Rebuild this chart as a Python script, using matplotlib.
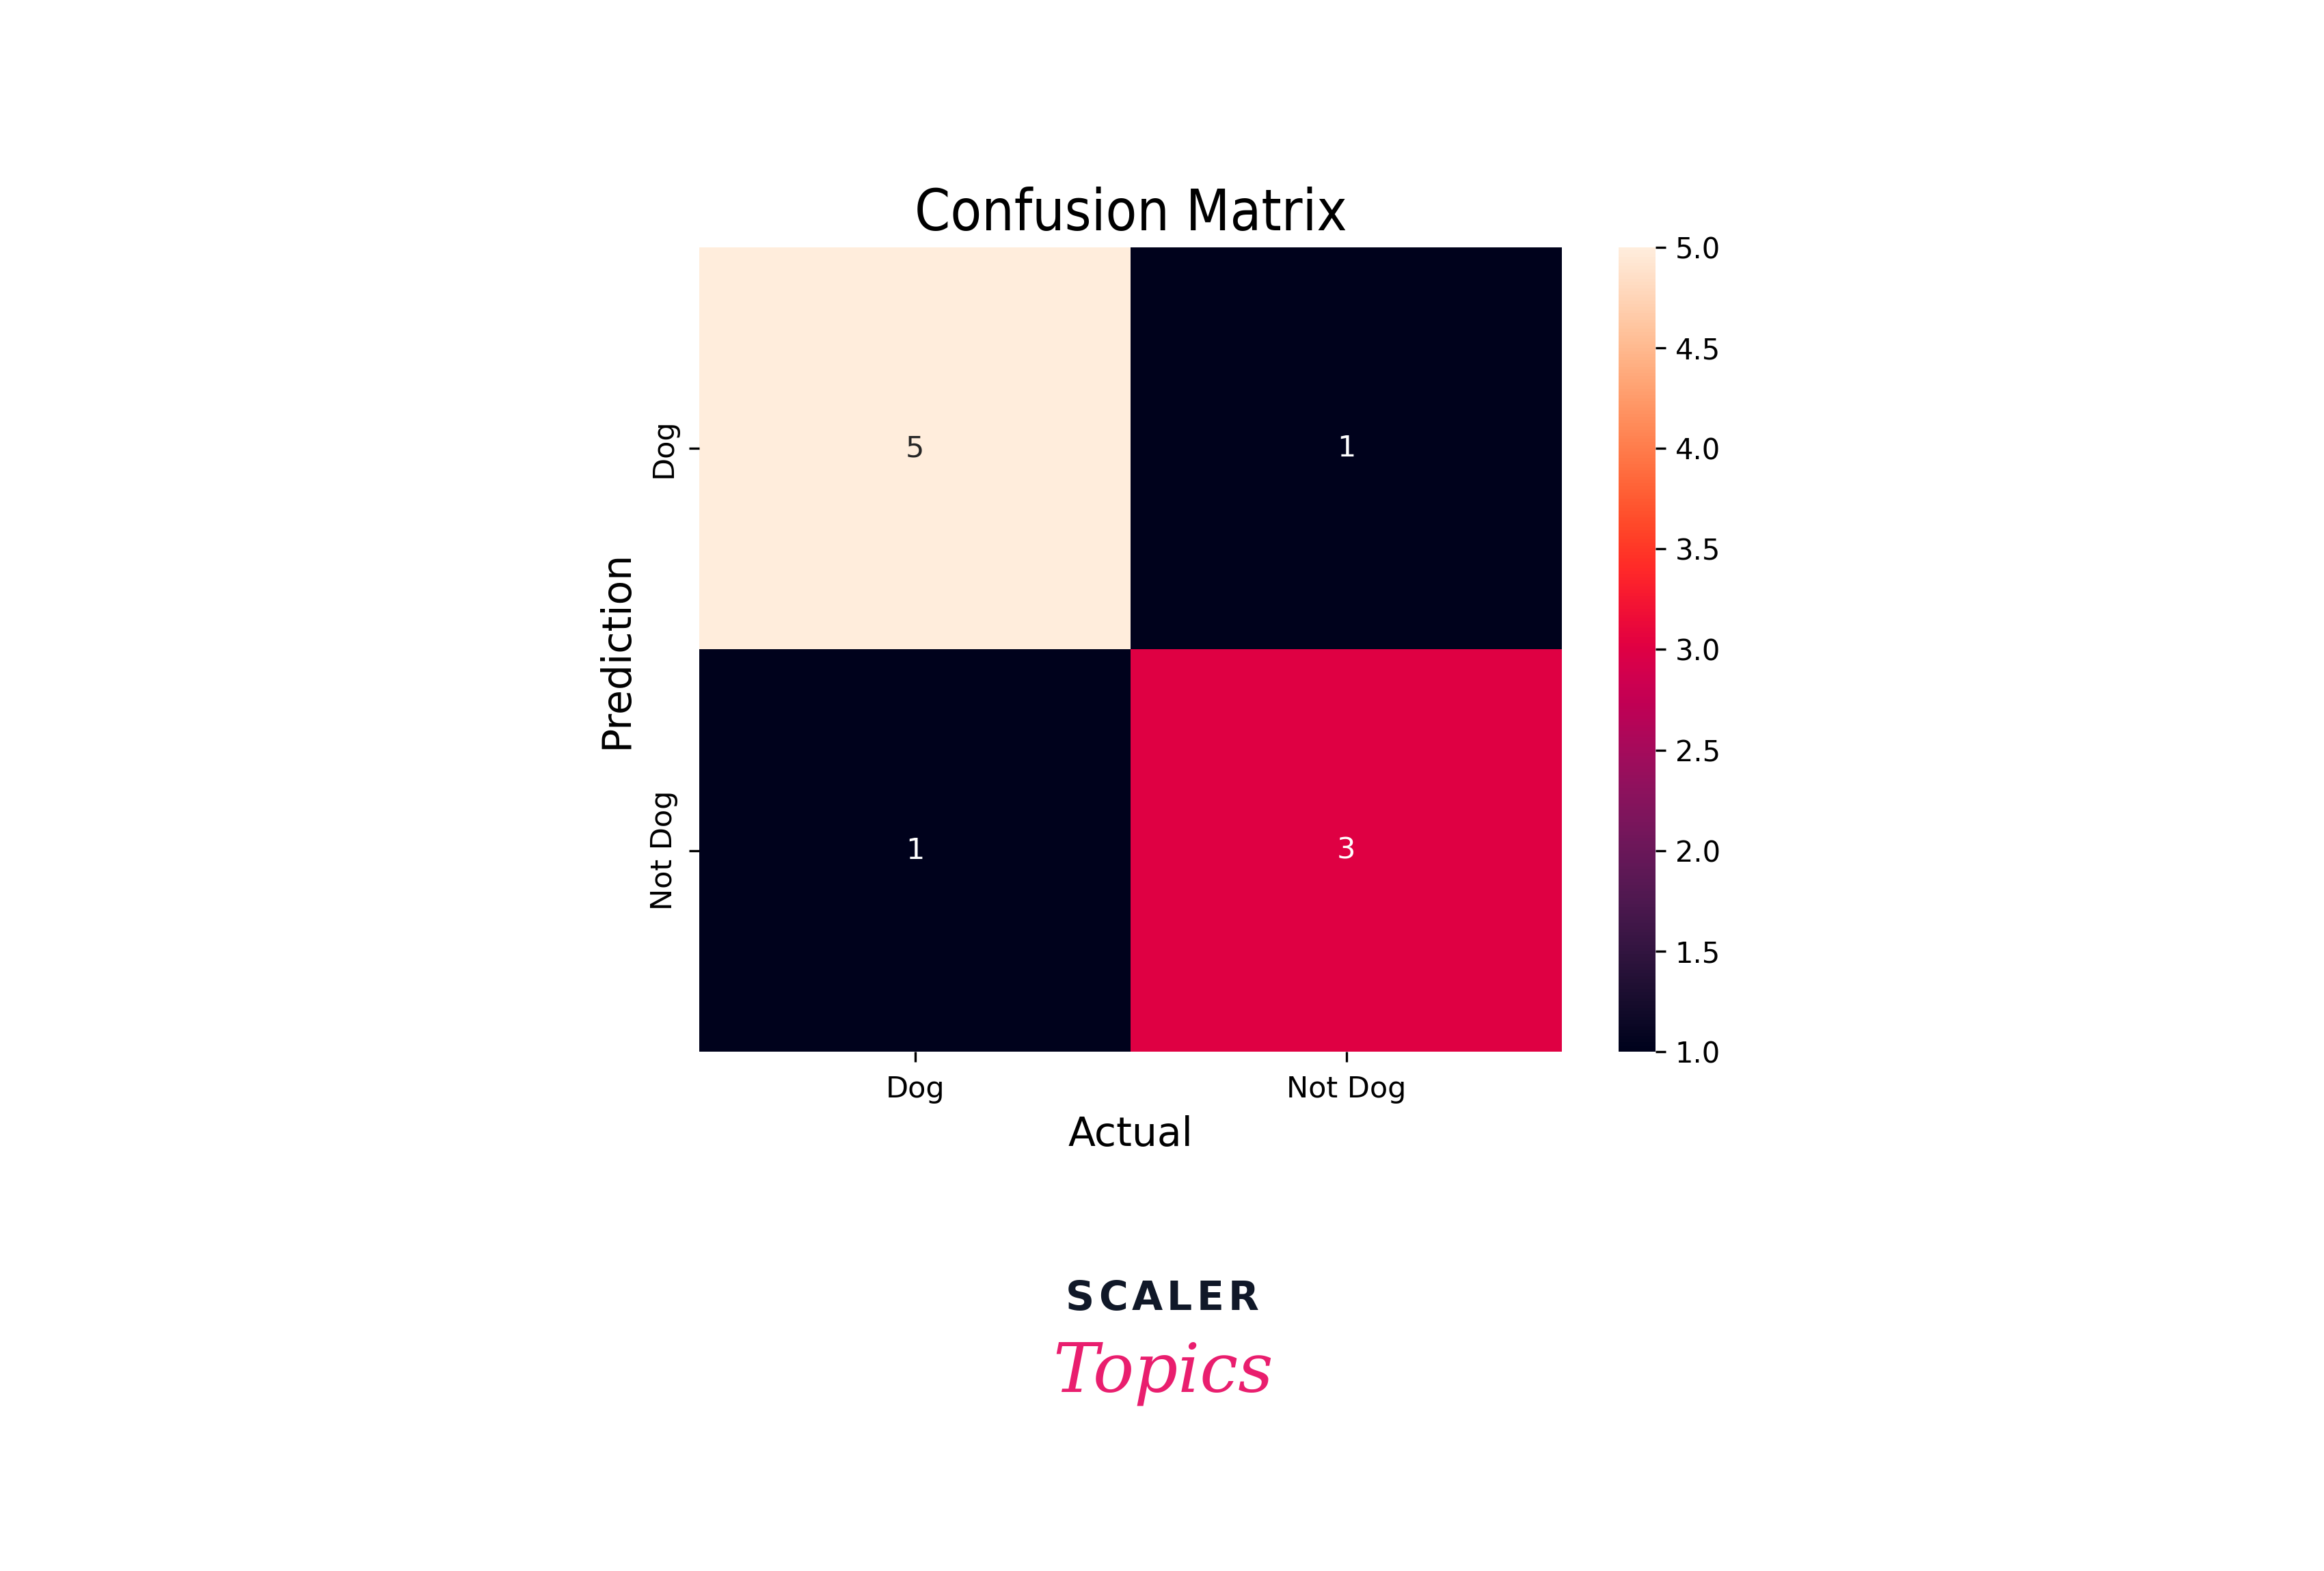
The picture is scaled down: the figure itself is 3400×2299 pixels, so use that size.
import matplotlib

matplotlib.use("Agg")
import matplotlib.pyplot as plt
import numpy as np
import seaborn as sns
from matplotlib.colors import ListedColormap, rgb_to_hsv, hsv_to_rgb

# confusion matrix values
labels = ["Dog", "Not Dog"]
matrix = [[5, 1],
          [1, 3]]
cbar_ticks = [1.0, 1.5, 2.0, 2.5, 3.0, 3.5, 4.0, 4.5, 5.0]

plt.rcParams["font.family"] = ["DejaVu Sans"]

# rocket, a bit more saturated like the reference image
base = sns.color_palette("rocket", 256)
hsv = rgb_to_hsv(np.array(base))
hsv[:, 1] = np.clip(hsv[:, 1] * 1.15, 0, 1)
hsv[:, 2] = np.clip(hsv[:, 2] * 1.1, 0, 1)
cmap = ListedColormap(hsv_to_rgb(hsv))

fig = plt.figure(figsize=(34, 22.99), dpi=100)
ax = fig.add_axes([0.3009, 0.3306, 0.3712, 0.5120])
cax = fig.add_axes([0.6965, 0.3306, 0.0159, 0.5120])

sns.heatmap(np.array(matrix), annot=True, fmt="d", cmap=cmap,
            xticklabels=labels, yticklabels=labels, ax=ax, cbar_ax=cax,
            annot_kws={"fontsize": 31})

ax.set_title("Confusion Matrix", fontsize=60, pad=18, fontstretch="condensed")
ax.set_xlabel("Actual", fontsize=42, labelpad=12)
ax.set_ylabel("Prediction", fontsize=42, labelpad=14)
ax.tick_params(axis="x", labelsize=31, length=10.5, width=2.4, pad=14)
ax.tick_params(axis="y", labelsize=31, length=10.5, width=2.4, pad=12)
plt.setp(ax.get_yticklabels(), rotation=90, va="center")
plt.setp(ax.get_xticklabels(), rotation=0)

cax.tick_params(labelsize=30, length=10.5, width=2.4, pad=10)
cax.set_yticks(cbar_ticks)
cax.set_yticklabels([f"{t:.1f}" for t in cbar_ticks])

# logo: spaced-out "SCALER" above a pink "Topics"
word = "SCALER"
renderer = fig.canvas.get_renderer()
kw = dict(fontsize=42, fontweight="bold", color="#101828", va="center")
widths = []
for ch in word:
    t = fig.text(0, 0, ch, **kw)
    widths.append(t.get_window_extent(renderer).width / fig.bbox.width)
    t.remove()
gap = 0.0018
x = 0.5 - (sum(widths) + gap * (len(word) - 1)) / 2
for ch, w in zip(word, widths):
    fig.text(x, 0.1735, ch, ha="left", **kw)
    x += w + gap

fig.text(0.5006, 0.126, "Topics", fontsize=72, style="italic", color="#E91E6E",
         ha="center", va="center", family="DejaVu Serif")

fig.savefig("out.png", dpi=100)
